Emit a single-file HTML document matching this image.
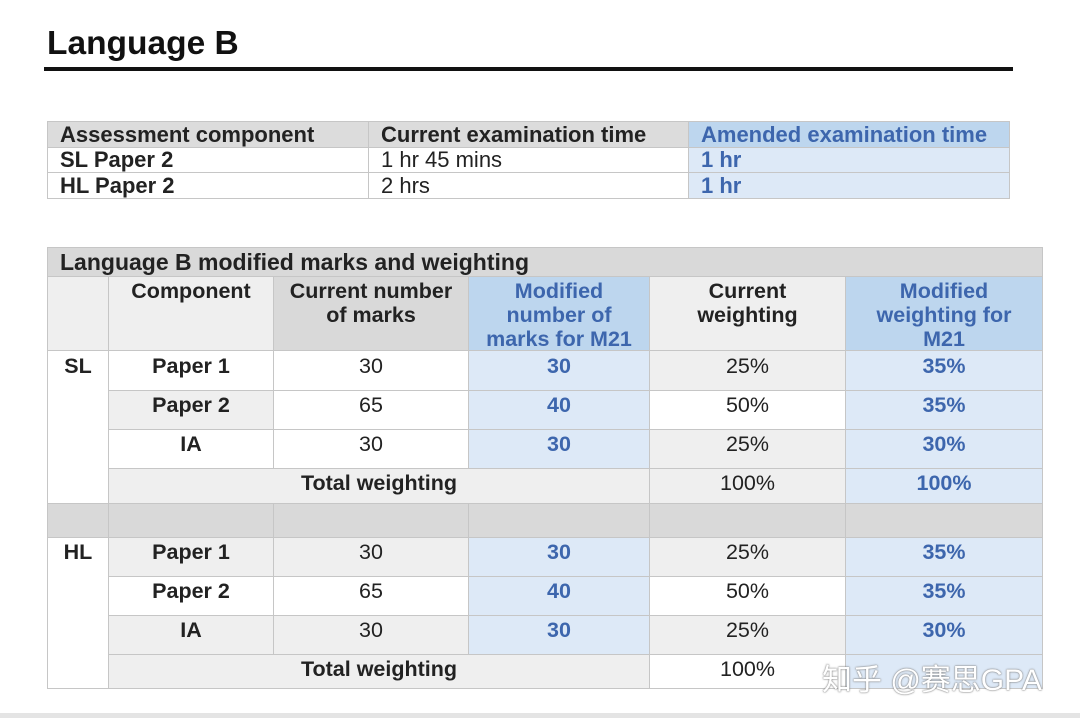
<!DOCTYPE html>
<html><head><meta charset="utf-8"><style>
body{margin:0;width:1080px;height:718px;background:#fff;position:relative;overflow:hidden;font-family:"Liberation Sans","Noto Sans CJK SC",sans-serif;color:#222}
.t{position:absolute;left:47px;top:25px;font-size:33.5px;font-weight:bold;color:#111}
.rule{position:absolute;left:44px;top:67px;width:969px;height:4px;background:#111}
.c{position:absolute;box-sizing:border-box;border:1px solid #c6c6c6;font-size:21.5px;display:flex;align-items:center;justify-content:center;text-align:center;line-height:24px;white-space:nowrap}
.t1{font-size:22px}
.l{justify-content:flex-start;padding-left:12px}
.b{font-weight:bold}
.bl{color:#3d66ad;font-weight:bold}
.top{align-items:flex-start;padding-top:2px}
.g{background:#efefef}.g2{background:#d9d9d9}.hb{background:#bdd6ee}.lb{background:#dde9f7}.w{background:#fff}
.wm{position:absolute;left:822px;top:655px;font-size:30px;color:#fff;text-shadow:0 0 2px #888,0 0 1px #666;font-family:"Liberation Sans","Noto Sans CJK SC",sans-serif}
.bot{position:absolute;left:0;top:713px;width:1080px;height:5px;background:#e4e4e4}
</style></head><body>
<div class="t">Language B</div>
<div class="rule"></div>

<div class="c t1 l b" style="left:47px;top:121px;width:322px;height:27px;background:#dcdcdc">Assessment component</div>
<div class="c t1 l b" style="left:368px;top:121px;width:321px;height:27px;background:#dcdcdc">Current examination time</div>
<div class="c t1 l bl hb" style="left:688px;top:121px;width:322px;height:27px">Amended examination time</div>
<div class="c t1 l b w" style="left:47px;top:147px;width:322px;height:26px">SL Paper 2</div>
<div class="c t1 l w" style="left:368px;top:147px;width:321px;height:26px">1 hr 45 mins</div>
<div class="c t1 l bl lb" style="left:688px;top:147px;width:322px;height:26px">1 hr</div>
<div class="c t1 l b w" style="left:47px;top:172px;width:322px;height:27px">HL Paper 2</div>
<div class="c t1 l w" style="left:368px;top:172px;width:321px;height:27px">2 hrs</div>
<div class="c t1 l bl lb" style="left:688px;top:172px;width:322px;height:27px">1 hr</div>

<div class="c l b g2" style="left:47px;top:247px;width:996px;height:30px;font-size:23px">Language B modified marks and weighting</div>
<div class="c g" style="left:47px;top:276px;width:62px;height:75px"></div>
<div class="c b g top" style="left:108px;top:276px;width:166px;height:75px">Component</div>
<div class="c b g2 top" style="left:273px;top:276px;width:196px;height:75px">Current number<br>of marks</div>
<div class="c bl hb top" style="left:468px;top:276px;width:182px;height:75px">Modified<br>number of<br>marks for M21</div>
<div class="c b g top" style="left:649px;top:276px;width:197px;height:75px">Current<br>weighting</div>
<div class="c bl hb top" style="left:845px;top:276px;width:198px;height:75px">Modified<br>weighting for<br>M21</div>

<div class="c b w top" style="left:47px;top:350px;width:62px;height:154px;padding-top:3px">SL</div>
<div class="c b w top" style="left:108px;top:350px;width:166px;height:41px;padding-top:3px">Paper 1</div>
<div class="c w top" style="left:273px;top:350px;width:196px;height:41px;padding-top:3px">30</div>
<div class="c bl lb top" style="left:468px;top:350px;width:182px;height:41px;padding-top:3px">30</div>
<div class="c g top" style="left:649px;top:350px;width:197px;height:41px;padding-top:3px">25%</div>
<div class="c bl lb top" style="left:845px;top:350px;width:198px;height:41px;padding-top:3px">35%</div>

<div class="c b g top" style="left:108px;top:390px;width:166px;height:40px;padding-top:2px">Paper 2</div>
<div class="c w top" style="left:273px;top:390px;width:196px;height:40px;padding-top:2px">65</div>
<div class="c bl lb top" style="left:468px;top:390px;width:182px;height:40px;padding-top:2px">40</div>
<div class="c w top" style="left:649px;top:390px;width:197px;height:40px;padding-top:2px">50%</div>
<div class="c bl lb top" style="left:845px;top:390px;width:198px;height:40px;padding-top:2px">35%</div>

<div class="c b w top" style="left:108px;top:429px;width:166px;height:40px;padding-top:2px">IA</div>
<div class="c w top" style="left:273px;top:429px;width:196px;height:40px;padding-top:2px">30</div>
<div class="c bl lb top" style="left:468px;top:429px;width:182px;height:40px;padding-top:2px">30</div>
<div class="c g top" style="left:649px;top:429px;width:197px;height:40px;padding-top:2px">25%</div>
<div class="c bl lb top" style="left:845px;top:429px;width:198px;height:40px;padding-top:2px">30%</div>

<div class="c b g top" style="left:108px;top:468px;width:542px;height:36px;padding-top:2px">Total weighting</div>
<div class="c g top" style="left:649px;top:468px;width:197px;height:36px;padding-top:2px">100%</div>
<div class="c bl lb top" style="left:845px;top:468px;width:198px;height:36px;padding-top:2px">100%</div>

<div class="c g2" style="left:47px;top:503px;width:62px;height:35px"></div>
<div class="c g2" style="left:108px;top:503px;width:166px;height:35px"></div>
<div class="c g2" style="left:273px;top:503px;width:196px;height:35px"></div>
<div class="c g2" style="left:468px;top:503px;width:182px;height:35px"></div>
<div class="c g2" style="left:649px;top:503px;width:197px;height:35px"></div>
<div class="c g2" style="left:845px;top:503px;width:198px;height:35px"></div>

<div class="c b w top" style="left:47px;top:537px;width:62px;height:152px;padding-top:2px">HL</div>
<div class="c b g top" style="left:108px;top:537px;width:166px;height:40px;padding-top:2px">Paper 1</div>
<div class="c g top" style="left:273px;top:537px;width:196px;height:40px;padding-top:2px">30</div>
<div class="c bl lb top" style="left:468px;top:537px;width:182px;height:40px;padding-top:2px">30</div>
<div class="c g top" style="left:649px;top:537px;width:197px;height:40px;padding-top:2px">25%</div>
<div class="c bl lb top" style="left:845px;top:537px;width:198px;height:40px;padding-top:2px">35%</div>

<div class="c b w top" style="left:108px;top:576px;width:166px;height:40px;padding-top:2px">Paper 2</div>
<div class="c w top" style="left:273px;top:576px;width:196px;height:40px;padding-top:2px">65</div>
<div class="c bl lb top" style="left:468px;top:576px;width:182px;height:40px;padding-top:2px">40</div>
<div class="c w top" style="left:649px;top:576px;width:197px;height:40px;padding-top:2px">50%</div>
<div class="c bl lb top" style="left:845px;top:576px;width:198px;height:40px;padding-top:2px">35%</div>

<div class="c b g top" style="left:108px;top:615px;width:166px;height:40px;padding-top:2px">IA</div>
<div class="c g top" style="left:273px;top:615px;width:196px;height:40px;padding-top:2px">30</div>
<div class="c bl lb top" style="left:468px;top:615px;width:182px;height:40px;padding-top:2px">30</div>
<div class="c g top" style="left:649px;top:615px;width:197px;height:40px;padding-top:2px">25%</div>
<div class="c bl lb top" style="left:845px;top:615px;width:198px;height:40px;padding-top:2px">30%</div>

<div class="c b g top" style="left:108px;top:654px;width:542px;height:35px;padding-top:2px">Total weighting</div>
<div class="c w top" style="left:649px;top:654px;width:197px;height:35px;padding-top:2px">100%</div>
<div class="c lb" style="left:845px;top:654px;width:198px;height:35px"></div>

<div class="wm">知乎 @赛思GPA</div>
<div class="bot"></div>
</body></html>
